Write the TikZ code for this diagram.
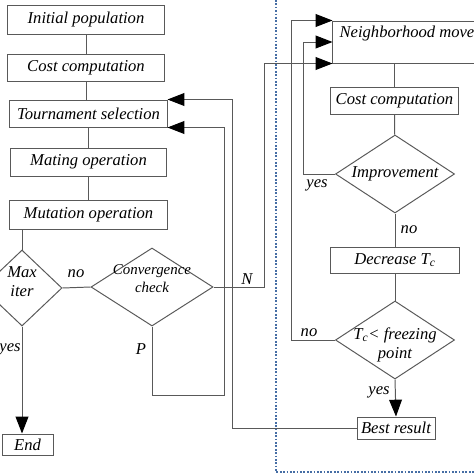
\documentclass[tikz,border=0pt]{standalone}
\usepackage{fontspec}
\setmainfont{Liberation Serif}
\usetikzlibrary{shapes.geometric,arrows.meta}
\definecolor{sepblue}{RGB}{70,110,165}

\begin{document}
\begin{tikzpicture}[x=0.025cm, y=-0.025cm, line width=0.7pt, draw=black!65,
		every node/.style={font=\fontsize{11.8}{13.5}\selectfont\itshape, text=black},
		box/.style={draw=black!65, inner sep=0pt, minimum height=0.7cm},
		dia/.style={draw=black!65, diamond, inner sep=0pt},
		arr/.style={-{Triangle[length=0.42cm, width=0.32cm, color=black]}},
		sep/.style={draw=sepblue, line width=1.2pt, dash pattern=on 1.2pt off 1.2pt}]
		\useasboundingbox (0,0) rectangle (474,474);
		\clip (0,0) rectangle (474,474);
		% genetic part
		\node[box, minimum width=3.9cm, minimum height=0.725cm] (init) at (86,19.5) {Initial population};
		\node[box, minimum width=3.9cm, minimum height=0.675cm] (cost1) at (86,67.5) {Cost computation};
		\node[box, minimum width=3.925cm, minimum height=0.675cm] (tour) at (88.5,113.5) {Tournament selection};
		\node[box, minimum width=3.9cm] (mate) at (88.5,162) {Mating operation};
		\node[box, minimum width=3.925cm, minimum height=0.725cm] (mut) at (88.5,214.5) {Mutation operation};
		\node[dia, minimum width=2cm, minimum height=1.9cm,
			label={[align=center, yshift=0.15cm]center:Max\\iter}] (maxit) at (22,288) {};
		\node[dia, minimum width=3.05cm, minimum height=1.95cm,
			label={[align=center, yshift=0.2cm, font=\fontsize{10.6}{12.8}\selectfont\itshape]center:Convergence\\check}] (conv) at (152,287) {};
		\node[box, minimum width=1.275cm, minimum height=0.525cm] (endb) at (27.5,444.5) {End};
		% annealing part
		\node[box, minimum width=3.7cm, minimum height=1.05cm,
			label={[yshift=0.22cm]center:Neighborhood move}] (neigh) at (407,42) {};
		\node[box, minimum width=3.175cm, minimum height=0.675cm] (cost2) at (394.5,100.5) {Cost computation};
		\node[dia, minimum width=2.975cm, minimum height=1.95cm, label={center:Improvement}] (impr) at (395,174) {};
		\node[box, minimum width=3.2cm, minimum height=0.65cm] (dec) at (395,260) {Decrease T\textsubscript{c}};
		\node[dia, minimum width=2.975cm, minimum height=1.95cm,
			label={[align=center, yshift=-0.12cm]center:T\textsubscript{c}< freezing\\point}] (frz) at (395,340) {};
		\node[box, minimum width=1.95cm, minimum height=0.55cm] (best) at (396,428) {Best result};
		\coordinate (pturn) at (224,395);
		\coordinate (nturn) at (264,287);
		\coordinate (bturn) at (232,428);
		\coordinate (yturn) at (303,174);
		\coordinate (fturn) at (291,340);
		\draw (init) -- (cost1);
		\draw (cost1.south) -- (cost1.south |- tour.north);
		\draw (tour) -- (mate);
		\draw (mate) -- (mut);
		\draw (mut.south -| maxit.north) -- (maxit.north);
		\draw (maxit.east) -- (conv.west);
		\draw[arr] (maxit.south) -- (maxit.south |- endb.north);
		\draw[arr] (conv.south) |- (pturn) |- (tour.south east);
		\draw[arr] (conv.east) -- (nturn) |- (neigh.south west);
		\draw[arr] (best.west) -- (bturn) |- (tour.north east);
		\draw (cost2.north |- neigh.south) -- (cost2.north);
		\draw (cost2) -- (impr);
		\draw[arr] (impr.west) -- (yturn) |- (neigh.west);
		\draw (impr) -- (dec);
		\draw (dec) -- (frz);
		\draw[arr] (frz.west) -- (fturn) |- (neigh.north west);
		\draw[arr] (frz.south) -- (best.north);
		\node (lno1) at (76,274) {no};
		\node (lyes1) at (10,349) {yes};
		\node (lp) at (141,349) {P};
		\node (ln) at (247,279) {N};
		\node (lyes2) at (317,185) {yes};
		\node (lno2) at (409,230) {no};
		\node (lno3) at (309,333) {no};
		\node (lyes3) at (379,392) {yes};
		\draw[sep] (276,0) -- (276,472) -- (474,472);
	\end{tikzpicture}
\end{document}
